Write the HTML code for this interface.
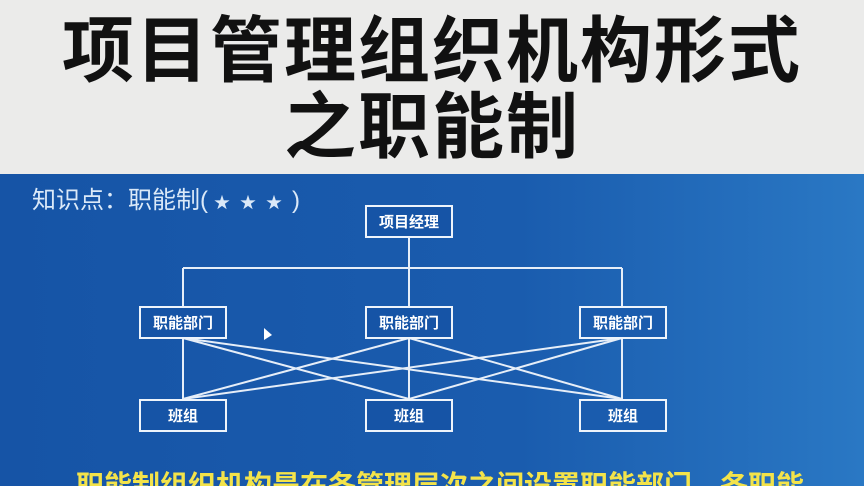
<!DOCTYPE html>
<html><head><meta charset="utf-8"><style>
html,body{margin:0;padding:0;width:864px;height:486px;overflow:hidden;background:#ebebea;position:relative;}
.t{position:absolute;left:0;width:864px;text-align:center;font-family:"Liberation Sans","Noto Sans CJK SC",sans-serif;font-weight:bold;color:#111;font-size:72px;letter-spacing:2px;line-height:1;}
.blue{position:absolute;left:0;top:174px;width:864px;height:312px;overflow:hidden;background:linear-gradient(90deg,#1654a6 0%,#1a5cae 60%,#2a78c4 100%);}
.box{position:absolute;border:2px solid #eef4fb;color:#fff;font-family:"Liberation Sans","Noto Sans CJK SC",sans-serif;font-weight:bold;font-size:15px;display:flex;align-items:center;justify-content:center;box-sizing:border-box;}
</style></head><body>
<div class="t" style="top:16px">项目管理组织机构形式</div>
<div class="t" style="top:92px">之职能制</div>
<div class="blue">
<div style="position:absolute;left:76px;top:290px;width:780px;color:#f3e34a;font-family:'Liberation Sans','Noto Sans CJK SC',sans-serif;font-weight:bold;font-size:28px;white-space:nowrap;">职能制组织机构是在各管理层次之间设置职能部门，各职能</div>
</div>
<div style="position:absolute;left:32px;top:180px;color:#dbe9f8;font-family:'Liberation Sans','Noto Sans CJK SC',sans-serif;font-size:24px;white-space:nowrap;">知识点：职能制(<span style="font-size:16px;letter-spacing:10px;margin-left:6px">★★★</span>)</div>
<svg width="864" height="486" style="position:absolute;left:0;top:0" >
<g stroke="#e6eef8" stroke-width="2" fill="none">
<line x1="409" y1="238" x2="409" y2="306"/>
<line x1="183" y1="268" x2="622" y2="268"/>
<line x1="183" y1="268" x2="183" y2="306"/>
<line x1="622" y1="268" x2="622" y2="306"/>
<line x1="183" y1="338" x2="183" y2="399"/>
<line x1="409" y1="338" x2="409" y2="399"/>
<line x1="622" y1="338" x2="622" y2="399"/>
<line x1="183" y1="338" x2="409" y2="399"/>
<line x1="183" y1="338" x2="622" y2="399"/>
<line x1="409" y1="338" x2="183" y2="399"/>
<line x1="409" y1="338" x2="622" y2="399"/>
<line x1="622" y1="338" x2="183" y2="399"/>
<line x1="622" y1="338" x2="409" y2="399"/>
</g>
<polygon points="264,328 264,340 272,335" fill="#fff"/>
</svg>
<div class="box" style="left:365px;top:205px;width:88px;height:33px;background:#1654a6">项目经理</div>
<div class="box" style="left:139px;top:306px;width:88px;height:33px;background:#1654a6">职能部门</div>
<div class="box" style="left:365px;top:306px;width:88px;height:33px;background:#1654a6">职能部门</div>
<div class="box" style="left:579px;top:306px;width:88px;height:33px;background:#1a5cae">职能部门</div>
<div class="box" style="left:139px;top:399px;width:88px;height:33px;background:#1654a6">班组</div>
<div class="box" style="left:365px;top:399px;width:88px;height:33px;background:#1654a6">班组</div>
<div class="box" style="left:579px;top:399px;width:88px;height:33px;background:#1a5cae">班组</div>
</body></html>
